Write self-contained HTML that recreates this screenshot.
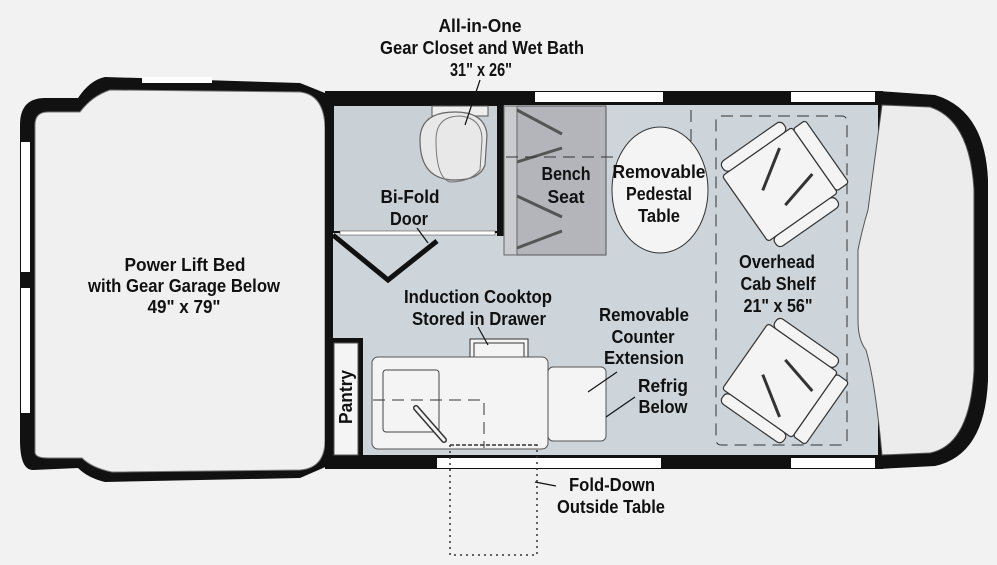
<!DOCTYPE html>
<html><head><meta charset="utf-8"><style>
html,body{margin:0;padding:0;background:#f2f2f2;}
svg{display:block}
text{font-family:"Liberation Sans Narrow","Liberation Sans",sans-serif;font-size:18px;font-weight:bold;fill:#111;text-anchor:middle}
</style></head><body>
<svg width="997" height="565" viewBox="0 0 997 565" xmlns="http://www.w3.org/2000/svg">
<rect width="997" height="565" fill="#f2f2f2"/>
<!-- rear bed body -->
<path d="M33,470 Q20,470 20,440 L20,125 Q20,98 45,98 L78,98 Q90,80 105,77 L300,83 L330,95 L330,465 L300,478 L105,482 Q88,478 78,468 Z" fill="#111"/>
<path d="M35,452 L35,125 Q35,112 48,112 L80,112 Q92,96 110,90 L300,92 Q325,95 325,130 L325,440 Q325,468 300,470 L112,472 Q92,468 82,458 L48,458 Q35,458 35,452 Z" fill="#f0f0f0" stroke="#777" stroke-width="1"/>
<rect x="21" y="142" width="9" height="130" fill="#fff"/>
<rect x="21" y="288" width="9" height="125" fill="#fff"/>
<rect x="142" y="77" width="70" height="6" fill="#fff"/>
<!-- main box -->
<rect x="325" y="91" width="558" height="378" fill="#111"/>
<rect x="333" y="105" width="550" height="350" fill="#cdd5da"/>
<rect x="535" y="92" width="128" height="10" fill="#fff"/>
<rect x="791" y="92" width="84" height="10" fill="#fff"/>
<rect x="437" y="458" width="224" height="10" fill="#fff"/>
<rect x="791" y="458" width="84" height="10" fill="#fff"/>
<!-- cab -->
<path d="M878,91 L935,95 Q985,110 988,180 L988,380 Q985,455 935,466 L878,469 Z" fill="#111"/>
<path d="M882,105 L930,107 Q970,120 974,190 L974,370 Q970,445 930,453 L882,455 Q875,380 866,350 Q858,340 858,320 L858,250 Q862,230 868,210 Z" fill="#ececec" stroke="#555" stroke-width="1"/>
<!-- bath -->
<rect x="333" y="105" width="165" height="127" fill="#c9d1d6" stroke="#111" stroke-width="2"/>
<rect x="497" y="105" width="7" height="131" fill="#111"/>
<rect x="340" y="231" width="155" height="4" fill="#fff" stroke="#333" stroke-width="0.5"/>
<path d="M333,235 L388,280 L437,241" fill="none" stroke="#111" stroke-width="5"/>
<line x1="417" y1="228" x2="428" y2="243" stroke="#111" stroke-width="1.2"/>
<rect x="432" y="106" width="56" height="10" fill="#eee" stroke="#555"/>
<path d="M420,140 Q420,112 455,112 Q485,112 487,135 L485,165 Q480,180 455,180 Q420,180 420,140Z" fill="#e8e8e8" stroke="#666" stroke-width="1.2"/>
<path d="M436,140 Q436,116 460,116 Q482,118 482,140 L480,170 Q470,182 450,182 Q436,178 436,140Z" fill="none" stroke="#777" stroke-width="1"/>
<line x1="480" y1="80" x2="465" y2="125" stroke="#111" stroke-width="1.2"/>
<!-- bench -->
<rect x="504" y="106" width="102" height="149" fill="#b3b5bb" stroke="#555"/>
<rect x="504" y="106" width="13" height="149" fill="#c9cbcf" stroke="#666"/>
<g stroke="#555" stroke-width="3" fill="none">
<line x1="517" y1="110" x2="562" y2="134"/><line x1="517" y1="162" x2="562" y2="148"/>
<line x1="517" y1="196" x2="562" y2="217"/><line x1="517" y1="248" x2="562" y2="231"/>
</g>
<line x1="506" y1="157" x2="691" y2="157" stroke="#333" stroke-dasharray="12,7"/>
<line x1="691" y1="110" x2="691" y2="157" stroke="#333" stroke-dasharray="12,7"/>
<ellipse cx="660" cy="190" rx="48" ry="63" fill="#f4f4f4" stroke="#333"/>
<!-- cab shelf -->
<rect x="716" y="116" width="131" height="329" rx="5" fill="none" stroke="#333" stroke-dasharray="12,7"/>
<g transform="translate(782,183) rotate(-35)" fill="#f4f4f4" stroke="#333" stroke-width="1.2">
<rect x="-45" y="-40" width="85" height="80" rx="3"/>
<rect x="40" y="-38" width="15" height="76" rx="3"/>
<rect x="-40" y="-52" width="75" height="12" rx="5"/><rect x="-40" y="40" width="75" height="12" rx="5"/>
<line x1="-20" y1="-5" x2="18" y2="-30" stroke-width="3"/><line x1="-10" y1="20" x2="30" y2="10" stroke-width="3"/>
</g>
<g transform="translate(782,382) rotate(35)" fill="#f4f4f4" stroke="#333" stroke-width="1.2">
<rect x="-45" y="-40" width="85" height="80" rx="3"/>
<rect x="40" y="-38" width="15" height="76" rx="3"/>
<rect x="-40" y="-52" width="75" height="12" rx="5"/><rect x="-40" y="40" width="75" height="12" rx="5"/>
<line x1="-20" y1="5" x2="18" y2="30" stroke-width="3"/><line x1="-10" y1="-20" x2="30" y2="-10" stroke-width="3"/>
</g>
<!-- pantry -->
<rect x="329" y="338" width="34" height="120" fill="#111"/>
<rect x="334" y="343" width="24" height="112" fill="#f4f4f4" stroke="#555"/>
<text transform="translate(352,397) rotate(-90)" textLength="54" lengthAdjust="spacingAndGlyphs">Pantry</text>
<!-- counter -->
<rect x="470" y="339" width="58" height="20" fill="#f4f4f4" stroke="#333"/>
<rect x="474" y="343" width="50" height="14" fill="none" stroke="#333"/>
<rect x="372" y="357" width="176" height="92" rx="6" fill="#f4f4f4" stroke="#555"/>
<rect x="548" y="367" width="58" height="74" rx="5" fill="#f4f4f4" stroke="#555"/>
<rect x="383" y="370" width="56" height="62" rx="3" fill="none" stroke="#444"/>
<path d="M373,400 L484,400 L484,448" fill="none" stroke="#333" stroke-dasharray="12,7"/>
<path d="M416,408 L444,440" stroke="#333" stroke-width="6" stroke-linecap="round"/>
<path d="M416,408 L444,440" stroke="#f4f4f4" stroke-width="3" stroke-linecap="round"/>
<path d="M450,445 L450,555 L537,555 L537,445 Z M450,445 L540,445" fill="none" stroke="#333" stroke-dasharray="2,4" stroke-width="1.5"/>
<line x1="488" y1="345" x2="478" y2="327" stroke="#111" stroke-width="1.2"/>
<line x1="588" y1="392" x2="617" y2="372" stroke="#111" stroke-width="1.2"/>
<line x1="606" y1="417" x2="635" y2="397" stroke="#111" stroke-width="1.2"/>
<line x1="535" y1="482" x2="556" y2="486" stroke="#111" stroke-width="1.2"/>
<!-- labels -->
<g lengthAdjust="spacingAndGlyphs">
<text x="480" y="32" textLength="83" lengthAdjust="spacingAndGlyphs">All-in-One</text>
<text x="482" y="54" textLength="204" lengthAdjust="spacingAndGlyphs">Gear Closet and Wet Bath</text>
<text x="481" y="76" textLength="62" lengthAdjust="spacingAndGlyphs">31" x 26"</text>
<text x="410" y="203" textLength="59" lengthAdjust="spacingAndGlyphs">Bi-Fold</text>
<text x="409" y="225" textLength="38" lengthAdjust="spacingAndGlyphs">Door</text>
<text x="566" y="180" textLength="49" lengthAdjust="spacingAndGlyphs">Bench</text>
<text x="566" y="203" textLength="37" lengthAdjust="spacingAndGlyphs">Seat</text>
<text x="659" y="178" textLength="93" lengthAdjust="spacingAndGlyphs">Removable</text>
<text x="659" y="200" textLength="66" lengthAdjust="spacingAndGlyphs">Pedestal</text>
<text x="659" y="222" textLength="42" lengthAdjust="spacingAndGlyphs">Table</text>
<text x="777" y="268" textLength="76" lengthAdjust="spacingAndGlyphs">Overhead</text>
<text x="778" y="290" textLength="75" lengthAdjust="spacingAndGlyphs">Cab Shelf</text>
<text x="778" y="312" textLength="69" lengthAdjust="spacingAndGlyphs">21" x 56"</text>
<text x="185" y="271" textLength="121" lengthAdjust="spacingAndGlyphs">Power Lift Bed</text>
<text x="184" y="292" textLength="192" lengthAdjust="spacingAndGlyphs">with Gear Garage Below</text>
<text x="184" y="313" textLength="73" lengthAdjust="spacingAndGlyphs">49" x 79"</text>
<text x="478" y="303" textLength="148" lengthAdjust="spacingAndGlyphs">Induction Cooktop</text>
<text x="479" y="325" textLength="134" lengthAdjust="spacingAndGlyphs">Stored in Drawer</text>
<text x="644" y="321" textLength="90" lengthAdjust="spacingAndGlyphs">Removable</text>
<text x="643" y="343" textLength="63" lengthAdjust="spacingAndGlyphs">Counter</text>
<text x="644" y="364" textLength="80" lengthAdjust="spacingAndGlyphs">Extension</text>
<text x="663" y="392" textLength="50" lengthAdjust="spacingAndGlyphs">Refrig</text>
<text x="663" y="413" textLength="49" lengthAdjust="spacingAndGlyphs">Below</text>
<text x="612" y="491" textLength="86" lengthAdjust="spacingAndGlyphs">Fold-Down</text>
<text x="611" y="513" textLength="108" lengthAdjust="spacingAndGlyphs">Outside Table</text>
</g>
</svg>
</body></html>
